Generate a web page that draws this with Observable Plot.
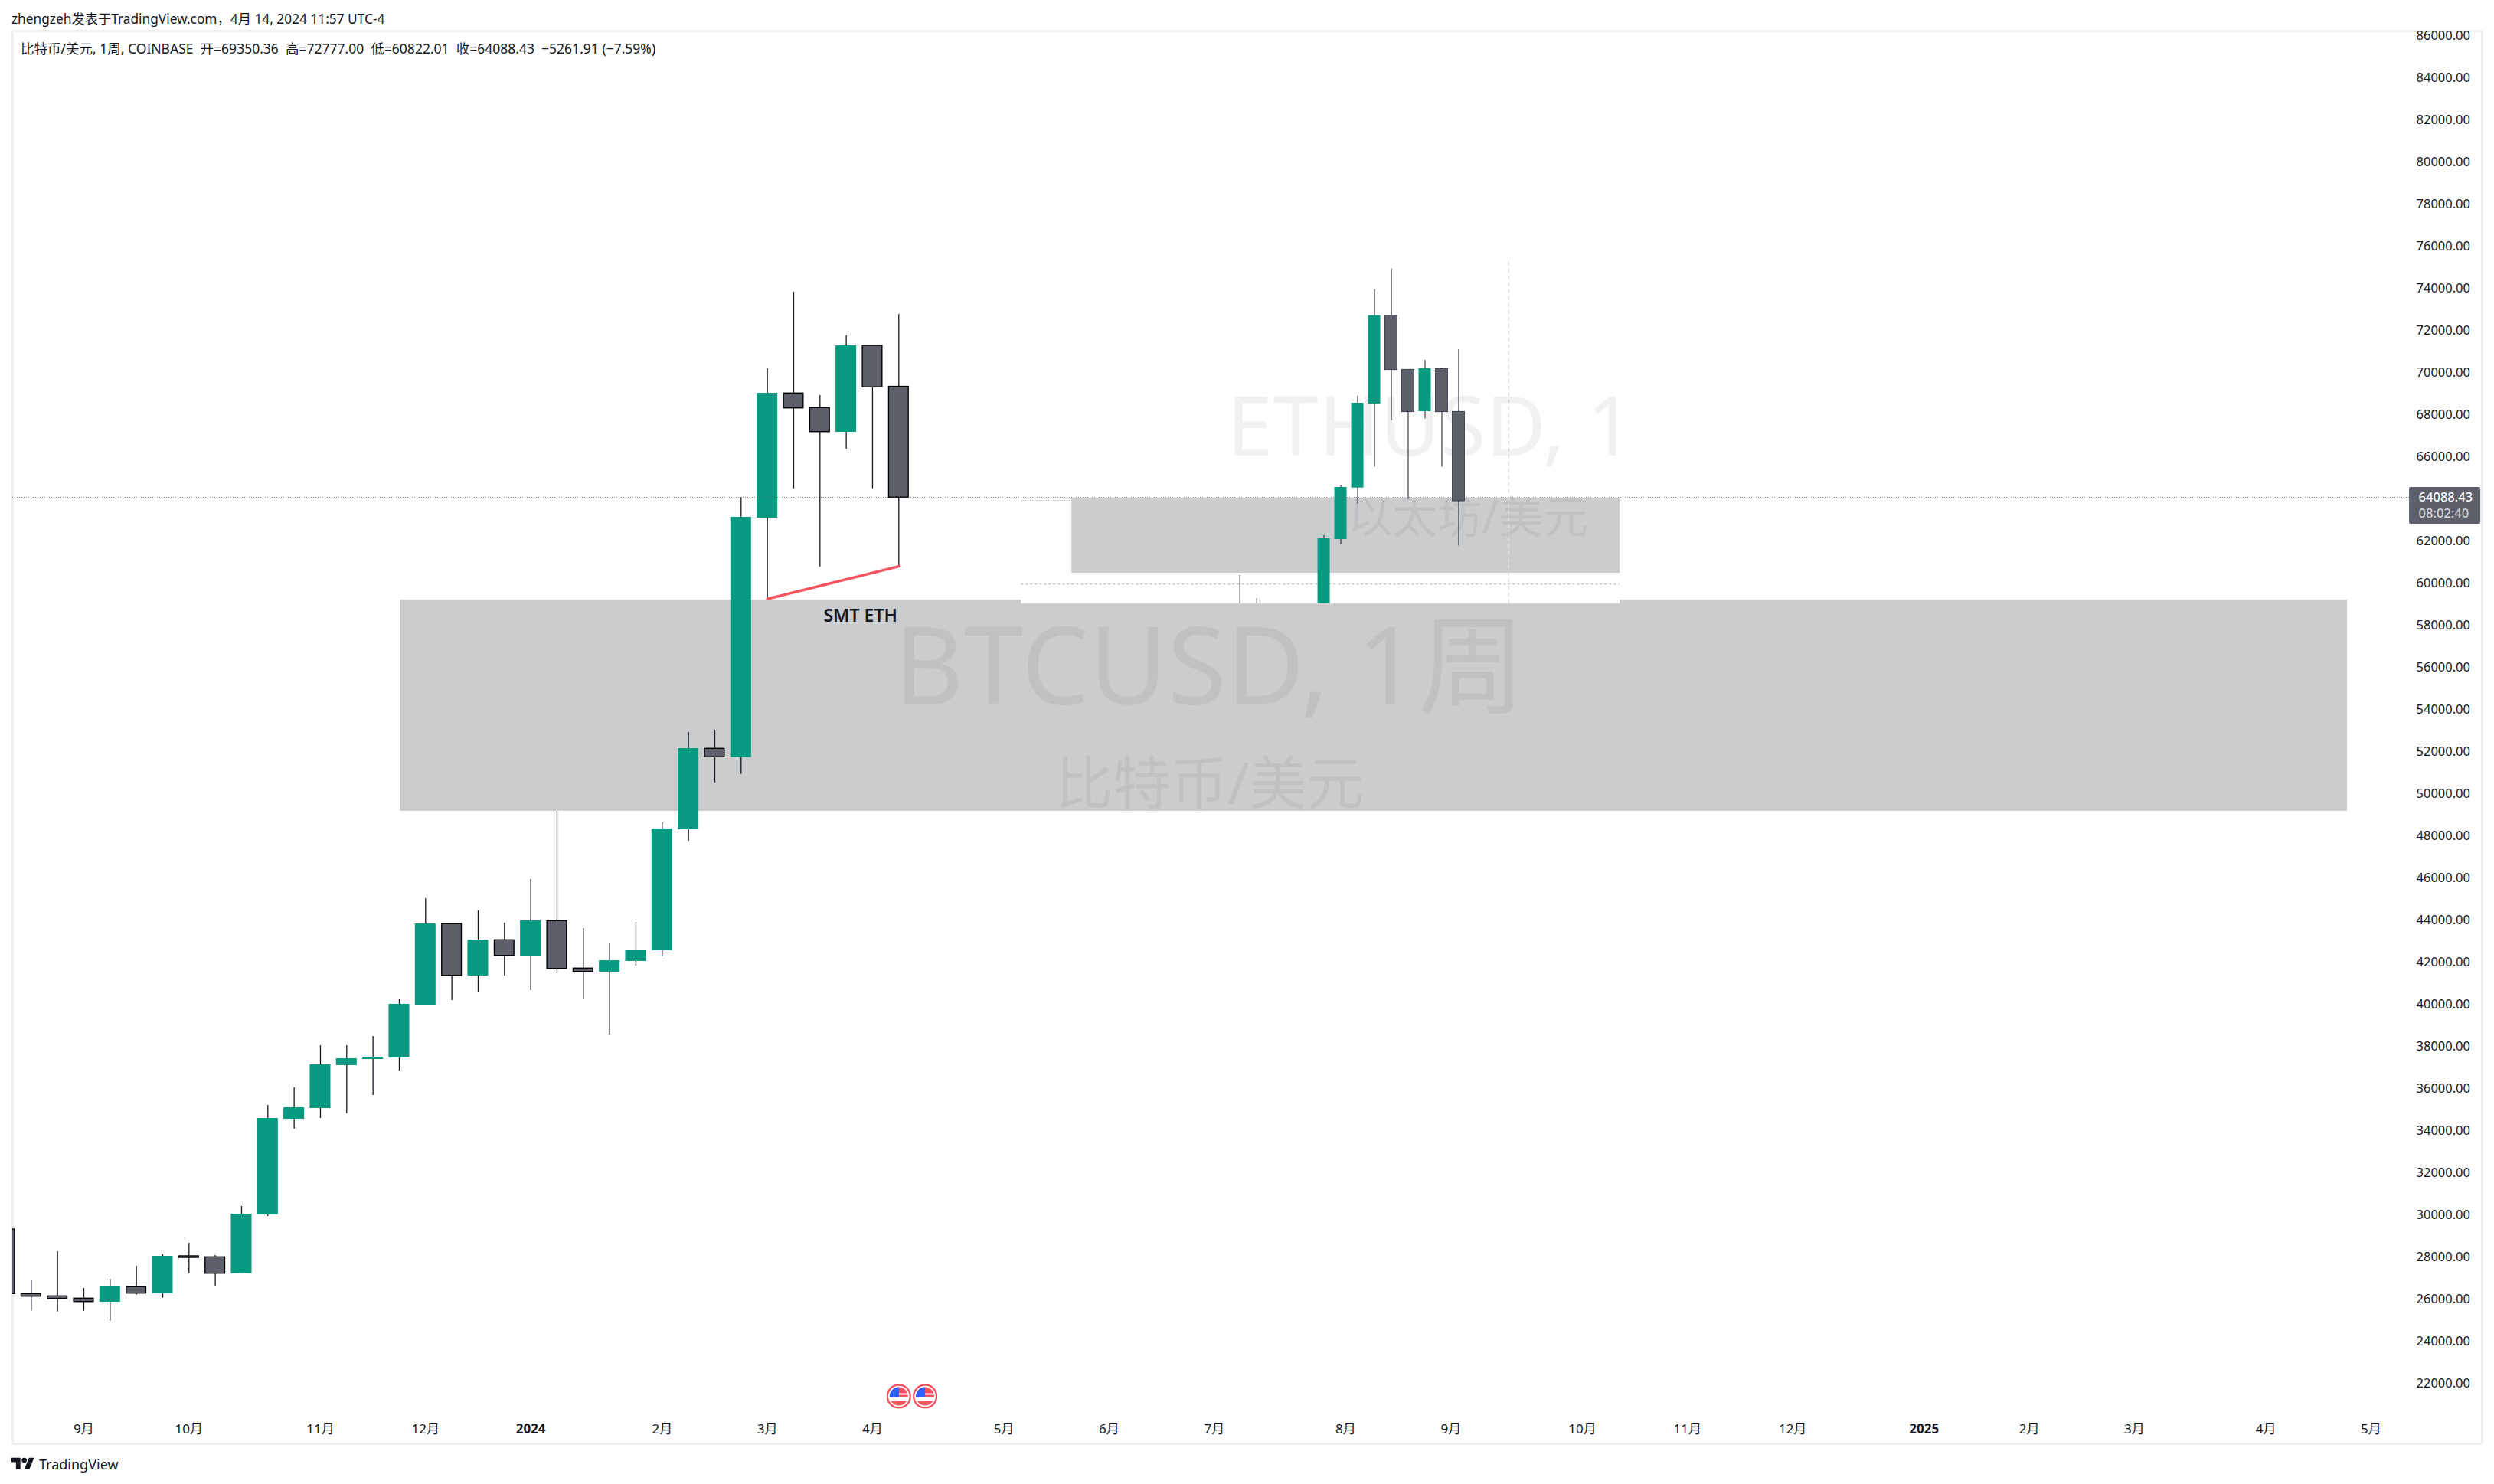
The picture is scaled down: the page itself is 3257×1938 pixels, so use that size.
<!DOCTYPE html>
<html>
<head>
<meta charset="utf-8">
<script src="https://cdn.jsdelivr.net/npm/d3@7"></script>
<script src="https://cdn.jsdelivr.net/npm/@observablehq/plot@0.6"></script>
<style>
html,body{margin:0;padding:0;background:#fff;}
body{width:3257px;height:1938px;overflow:hidden;position:relative;font-family:"Noto Sans","Noto Sans CJK SC",sans-serif;color:#131722;}
#title{position:absolute;left:15px;top:13px;font-size:17.3px;line-height:24px;white-space:nowrap;}
#legend{position:absolute;left:27px;top:51px;font-size:17.5px;line-height:24px;white-space:pre;}
#chart{position:absolute;left:0;top:20px;}
#brand{position:absolute;left:15px;top:1900px;display:flex;align-items:center;gap:6px;font-size:18px;line-height:24px;}
</style>
</head>
<body>
<div id="chart"></div>
<div id="title">zhengzeh发表于TradingView.com，4月 14, 2024 11:57 UTC-4</div>
<div id="legend">比特币/美元, 1周, COINBASE  开=69350.36  高=72777.00  低=60822.01  收=64088.43  −5261.91 (−7.59%)</div>
<div id="brand"><svg width="30" height="24" viewBox="0 0 36 28"><path fill="#131722" d="M14 22H7V11H0V4h14v18zM28 22h-8l7.5-18h8L28 22z"/><circle cx="20" cy="8" r="4" fill="#131722"/></svg><span>TradingView</span></div>
<script>
// BTC weekly candles, first bar is cut by the pane edge
const barIndex = d3.range(-1, 34);
const opens  = [29335,26269,26160,26050,25880,26596,26280,28062,28014,27236,30025,34571,35080,37116,37407,37480,39989,43833,41371,43069,42316,43978,41724,41553,42062,42571,48316,52160,51745,63116,69033,68342,67189,71298,69350.36];
const highs  = [29335,26898,28280,26535,26971,27589,28134,28680,28098,30425,35225,36062,38062,38062,38498,40280,45040,43833,44462,43880,45953,49189,43625,42898,43916,48644,52935,53044,64098,70207,73844,68935,71771,71298,72777];
const lows   = [26269,25454,25418,25454,24982,26218,26073,27236,26618,27236,29953,34098,34607,34825,35698,36862,39989,40207,40571,41371,40680,41480,40280,38571,41844,42280,47771,50545,50945,59273,64509,60800,66389,64509,60822.01];
const closes = [26269,26145,26036,25890,26607,26291,28062,27989,27236,30062,34607,35116,37153,37444,37516,40025,43844,41382,43080,42327,43989,41709,41564,42098,42607,48353,52171,51760,63153,69044,68327,67200,71298,69324,64088.43];

// Pasted ETHUSD inset, read against the same price axis
const ethBars   = [5,6,7,8,9,10,11,12,13];
const ethOpens  = [59055,62098,64545,68535,72727,70160,68171,70196,68160];
const ethHighs  = [62280,64669,68909,73978,74960,70160,70607,70244,71116];
const ethLows   = [59055,61855,63782,65542,67745,64000,67818,65542,61796];
const ethCloses = [62135,64571,68571,72727,70145,68145,70207,68145,63916];
const ethStubBars  = [0,1];
const ethStubHighs = [60389,59298];
const ethStubLow = 59055;
const ethOrigin = 45.97;
const ethStep = 0.6405;

const yTicks = d3.range(22000, 86001, 2000).filter(v => v !== 64000);
const monthTicks = [2,6,11,15,24,28,32,37,41,45,50,54,59,63,67,76,80,85,89];
const monthLabels = ["9月","10月","11月","12月","2月","3月","4月","5月","6月","7月","8月","9月","10月","11月","12月","2月","3月","4月","5月"];
const yearTicks = [19,72];
const yearLabels = ["2024","2025"];
const eventBars = [33,34];
const eventLevel = 21407;

const lastClose = 64088.43;
const countdown = "08:02:40";
const smtLine = [{i:28,v:59273},{i:33,v:60822.01}];
const btcZone = {x1:14.04,x2:88.1,y1:49189,y2:59225};
const ethPatch = {x1:37.66,x2:60.43,y1:59055,y2:64062};
const ethZone = {x1:39.58,x2:60.43,y1:60498,y2:64062};

const GREEN="#089981", GREY="#5d606b", WICK="#131722", ZONE="#cbccce", INK="#131722";
const FONT='"Noto Sans","Noto Sans CJK SC",sans-serif';

const candles = barIndex.map((i,k)=>({i,o:opens[k],h:highs[k],l:lows[k],c:closes[k]}));
const eth = ethBars.map((k,j)=>({i:ethOrigin+ethStep*k,o:ethOpens[j],h:ethHighs[j],l:ethLows[j],c:ethCloses[j]}));
const ethStubs = ethStubBars.map((k,j)=>({i:ethOrigin+ethStep*k,h:ethStubHighs[j],l:ethStubLow}));
const up = d=>d.c>=d.o;
const hw = 0.394, ehw = 0.233;

const flag = "data:image/svg+xml,"+encodeURIComponent(`<svg xmlns="http://www.w3.org/2000/svg" width="32" height="32" viewBox="0 0 32 32"><clipPath id="c"><circle cx="16" cy="16" r="12"/></clipPath><circle cx="16" cy="16" r="15" fill="#fff" stroke="#f7525f" stroke-width="2.4"/><g clip-path="url(#c)"><rect x="2" y="2" width="28" height="10" fill="#f7525f"/><rect x="2" y="14" width="28" height="3" fill="#f7525f"/><rect x="2" y="22" width="28" height="8" fill="#f7525f"/><rect x="2" y="2" width="14" height="15" fill="#2962ff"/></g></svg>`);

const plot = Plot.plot({
  width:3257, height:1868,
  marginTop:20, marginBottom:3, marginLeft:16, marginRight:16,
  style:{fontFamily:FONT, background:"transparent", color:INK, overflow:"visible"},
  x:{type:"linear", domain:[0,33], range:[40.3,1173.3]},
  y:{type:"linear", domain:[22000,86000], range:[1786.7,26.7]},
  marks:[
    Plot.frame({stroke:"#f0f0f0",strokeWidth:3}),
    // BTC zone and watermark
    Plot.rect([btcZone],{x1:"x1",x2:"x2",y1:"y1",y2:"y2",fill:ZONE}),
    Plot.text(["BTCUSD, 1周"],{x:()=>44.83,y:()=>55900,fontSize:140,fill:INK,fillOpacity:0.06,textAnchor:"middle",lineAnchor:"middle"}),
    Plot.text(["比特币/美元"],{x:()=>44.83,y:()=>50400,fontSize:75,fill:INK,fillOpacity:0.06,textAnchor:"middle",lineAnchor:"middle"}),
    // BTC candles
    Plot.ruleX(candles,{x:"i",y1:"l",y2:"h",stroke:WICK,strokeWidth:1.3,clip:true}),
    Plot.rect(candles.filter(up),{x1:d=>d.i-hw,x2:d=>d.i+hw,y1:"o",y2:"c",fill:GREEN,clip:true}),
    Plot.rect(candles.filter(d=>!up(d)),{x1:d=>d.i-hw+0.02,x2:d=>d.i+hw-0.02,y1:"o",y2:"c",fill:GREY,stroke:"#000",strokeWidth:1.4,clip:true}),
    Plot.line(smtLine,{x:"i",y:"v",stroke:"#f7525f",strokeWidth:3.5}),
    Plot.text(["SMT ETH"],{x:()=>31.54,y:()=>58450,fontSize:23,fontWeight:600,fill:INK,textAnchor:"middle"}),
    // pasted ETH inset
    Plot.rect([ethPatch],{x1:"x1",x2:"x2",y1:"y1",y2:"y2",fill:"#fff"}),
    Plot.ruleY([63953],{x1:ethPatch.x1,x2:ethPatch.x2,stroke:"#bbbbbb",strokeDasharray:"1,1"}),
    Plot.ruleY([59978],{x1:ethPatch.x1,x2:ethPatch.x2,stroke:"#aaaaaa",strokeDasharray:"3,3"}),
    Plot.ruleY([59055],{x1:ethPatch.x1,x2:ethPatch.x2,stroke:"#dddddd"}),
    Plot.rect([ethZone],{x1:"x1",x2:"x2",y1:"y1",y2:"y2",fill:ZONE}),
    Plot.ruleX([56.2],{y1:59055,y2:75371,stroke:"#dddddd",strokeWidth:1.5,strokeDasharray:"5,4"}),
    Plot.text(["ETHUSD, 1"],{x:()=>45.47,y:()=>67350,fontSize:108,fill:INK,fillOpacity:0.06,textAnchor:"start",lineAnchor:"middle"}),
    Plot.text(["以太坊/美元"],{x:()=>50.07,y:()=>63080,fontSize:58.5,fill:INK,fillOpacity:0.06,textAnchor:"start",lineAnchor:"middle"}),
    Plot.ruleX(ethStubs,{x:"i",y1:"l",y2:"h",stroke:WICK,strokeWidth:1,strokeOpacity:0.8}),
    Plot.ruleX(eth,{x:"i",y1:"l",y2:"h",stroke:WICK,strokeWidth:1}),
    Plot.rect(eth.filter(up),{x1:d=>d.i-ehw,x2:d=>d.i+ehw,y1:"o",y2:"c",fill:GREEN}),
    Plot.rect(eth.filter(d=>!up(d)),{x1:d=>d.i-ehw,x2:d=>d.i+ehw,y1:"o",y2:"c",fill:GREY,stroke:"#2a2e39",strokeWidth:0.8}),
    // last price
    Plot.ruleY([lastClose],{stroke:GREY,strokeDasharray:"1,2"}),
    Plot.rect([0],{x1:()=>90.46,x2:()=>93.17,y1:()=>62825,y2:()=>64571,fill:GREY,rx:2}),
    Plot.text([lastClose.toFixed(2)],{x:()=>90.81,y:()=>64088,fontSize:16.5,fontWeight:500,fill:"#fff",textAnchor:"start"}),
    Plot.text([countdown],{x:()=>90.81,y:()=>63335,fontSize:16.5,fontWeight:500,fill:"#d4d5d9",textAnchor:"start"}),
    // economic events
    Plot.image(eventBars,{x:d=>d,y:()=>eventLevel,src:flag,width:32,height:32}),
    // axes
    Plot.axisY(yTicks,{anchor:"right",tickSize:0,tickPadding:0,dx:-86,label:null,fontSize:16.5,fill:INK,tickFormat:d=>d.toFixed(2)}),
    Plot.axisX(monthTicks,{anchor:"bottom",tickSize:0,label:null,fontSize:17,fill:INK,dy:-35,tickFormat:i=>monthLabels[monthTicks.indexOf(i)]}),
    Plot.axisX(yearTicks,{anchor:"bottom",tickSize:0,label:null,fontSize:17,fontWeight:700,fill:INK,dy:-35,tickFormat:i=>yearLabels[yearTicks.indexOf(i)]})
  ]
});
document.getElementById("chart").appendChild(plot);
</script>
</body>
</html>
